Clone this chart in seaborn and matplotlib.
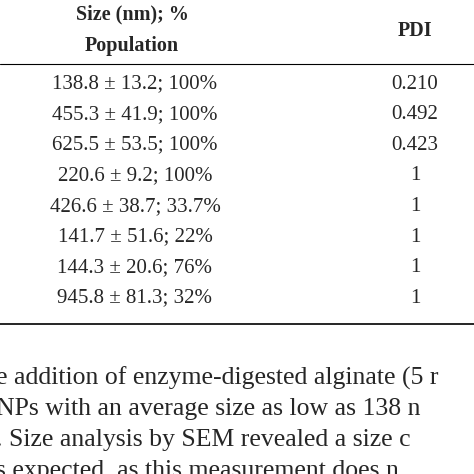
import matplotlib
matplotlib.use("Agg")
import matplotlib.pyplot as plt
import seaborn as sns

# ── Table data ────────────────────────────────────────────────
sizes = ["138.8 ± 13.2; 100%", "455.3 ± 41.9; 100%", "625.5 ± 53.5; 100%",
         "220.6 ± 9.2; 100%", "426.6 ± 38.7; 33.7%", "141.7 ± 51.6; 22%",
         "144.3 ± 20.6; 76%", "945.8 ± 81.3; 32%"]
pdi = ["0.210", "0.492", "0.423", "1", "1", "1", "1", "1"]
paragraph = ["e addition of enzyme-digested alginate (5 r",
             "NPs with an average size as low as 138 n",
             ". Size analysis by SEM revealed a size c",
             "s expected, as this measurement does n"]

sns.set_theme(style="white")
plt.rcParams["font.family"] = ["Liberation Serif", "DejaVu Serif"]

fig = plt.figure(figsize=(4.74, 4.74), dpi=100)
ax = fig.add_axes([0, 0, 1, 1])
ax.set_xlim(0, 474)
ax.set_ylim(474, 0)
ax.axis("off")

ax.text(132, 14, "Size (nm); %", ha="center", va="center", fontsize=14.5, fontweight="bold")
ax.text(132, 46, "Population", ha="center", va="center", fontsize=14.5, fontweight="bold")
ax.text(415, 31, "PDI", ha="center", va="center", fontsize=14.5, fontweight="bold")
ax.plot([0, 474], [64, 64], color="black", lw=0.8)

for i, (s, p) in enumerate(zip(sizes, pdi)):
    y = 84 + i * 30.6
    ax.text(135, y, s, ha="center", va="center", fontsize=15)
    ax.text(415, y, p, ha="center", va="center", fontsize=15)

ax.plot([0, 474], [324, 324], color="black", lw=1.2)

for i, line in enumerate(paragraph):
    ax.text(-4, 378 + i * 31, line, ha="left", va="center", fontsize=18.5)

fig.savefig("out.png", dpi=100)
